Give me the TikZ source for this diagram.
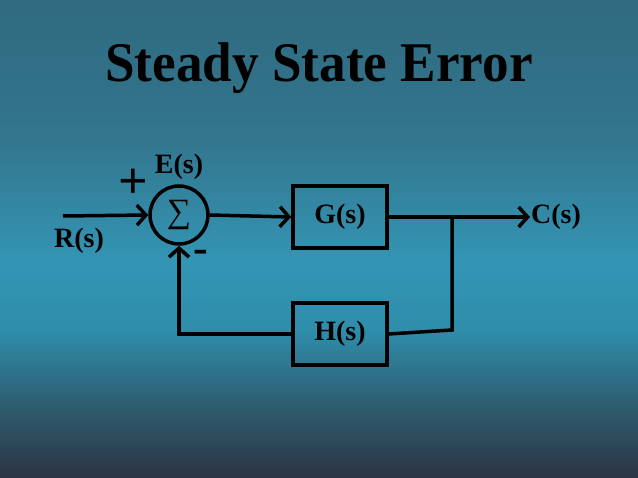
\documentclass[tikz,border=0pt]{standalone}
\usepackage{fontspec}
\setmainfont{Liberation Serif}
\usetikzlibrary{arrows.meta}
\definecolor{bgA}{HTML}{2F6A80}
\definecolor{bgB}{HTML}{33768E}
\definecolor{bgC}{HTML}{3395B4}
\definecolor{bgD}{HTML}{2F8DAB}
\definecolor{bgE}{HTML}{2E5F73}
\definecolor{bgF}{HTML}{2D3442}
\tikzset{
  wire/.style={line width=3.5pt, line join=miter},
  arr/.style={wire, -{Straight Barb[length=9pt,width=20pt]}},
  blk/.style={draw, line width=3.5pt, minimum width=94pt, minimum height=62pt, inner sep=0pt, font=\bfseries\fontsize{28}{30}\selectfont},
  sumc/.style={draw, circle, line width=3.5pt, minimum size=58pt, inner sep=0pt, font=\fontsize{34}{36}\selectfont},
  lbl/.style={font=\bfseries\fontsize{28}{30}\selectfont, inner sep=1pt},
}
\begin{document}
\begin{tikzpicture}[x=1pt,y=-1pt]
\useasboundingbox (0,0) rectangle (638,478);
\shade[top color=bgA,bottom color=bgB] (0,-1) rectangle (638,141);
\shade[top color=bgB,bottom color=bgC] (0,140) rectangle (638,261);
\shade[top color=bgC,bottom color=bgD] (0,260) rectangle (638,331);
\shade[top color=bgD,bottom color=bgE] (0,330) rectangle (638,401);
\shade[top color=bgE,bottom color=bgF] (0,400) rectangle (638,479);

\node[font=\bfseries\fontsize{56}{60}\selectfont, anchor=base, xscale=0.95, inner sep=0pt] (title) at (319,82) {Steady State Error};

\node[sumc] (sum) at (179,215) {∑};
\node[blk] (G) at (340,217) {G(s)};
\node[blk] (H) at (340,334) {H(s)};

\coordinate (in) at (63,216);
\coordinate (out) at (530,217);
\coordinate (j) at (452,217);
\coordinate (jb) at (452,330);

\draw[arr] (in) -- (sum.west);
\draw[arr] (sum.east) -- (G.west);
\draw[arr] (G.east) -- (out);
\draw[wire] (j) -- (jb) -- (H.east);
\draw[arr] (H.west) -| (sum.south);

\node[lbl] (R) at (79,241) {R(s)};
\node[lbl] (E) at (179,167) {E(s)};
\node[lbl, anchor=west] (C) at (out) {C(s)};
\node[inner sep=0pt, font=\bfseries\fontsize{52}{52}\selectfont] (plus) at (133,184) {+};
\node[inner sep=0pt, font=\bfseries\fontsize{44}{44}\selectfont] (minus) at (201,256) {-};
\end{tikzpicture}
\end{document}
